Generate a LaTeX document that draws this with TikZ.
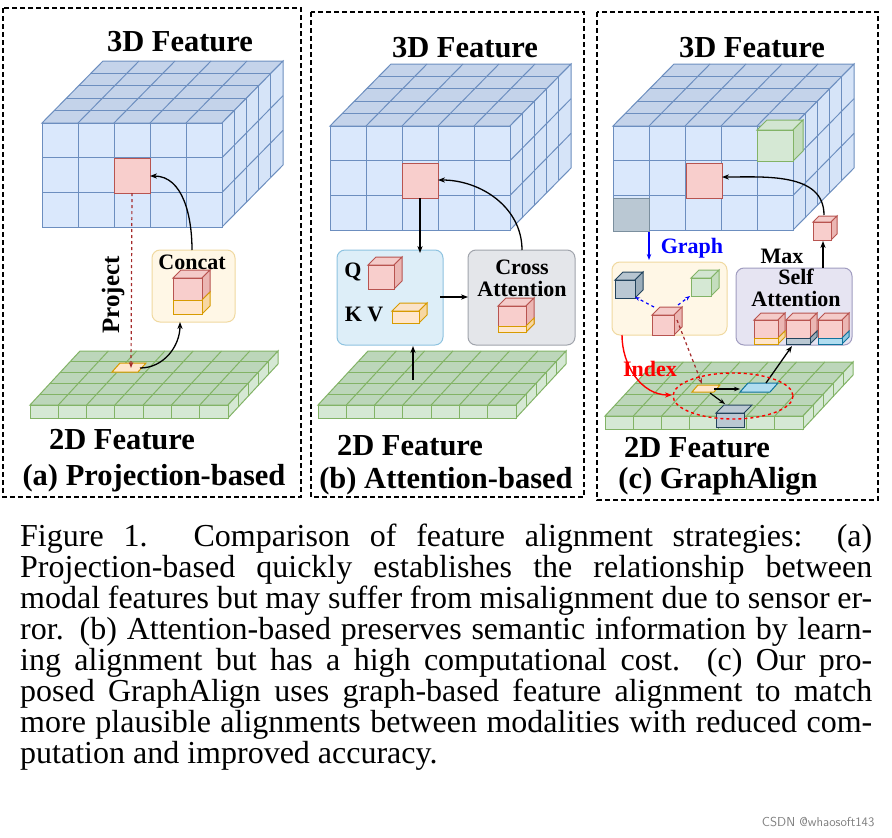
\documentclass[tikz,border=0pt]{standalone}
\usepackage{fontspec}
\setmainfont{Liberation Serif}
\usetikzlibrary{arrows.meta,positioning}
\definecolor{bfill}{HTML}{DAE8FC}\definecolor{bline}{HTML}{6C8EBF}\definecolor{btop}{HTML}{C4D3EA}
\definecolor{gfill}{HTML}{D5E8D4}\definecolor{gline}{HTML}{82B366}\definecolor{gtop}{HTML}{BCD6BA}
\definecolor{pfill}{HTML}{F8CECC}\definecolor{pline}{HTML}{B85450}
\definecolor{ofill}{HTML}{FFE6CC}\definecolor{oline}{HTML}{D79B00}
\definecolor{sfill}{HTML}{BAC8D3}\definecolor{sline}{HTML}{23445D}
\definecolor{cfill}{HTML}{B1DDF0}\definecolor{cline}{HTML}{10739E}
\definecolor{ybox}{HTML}{FFF7E6}\definecolor{yline}{HTML}{F0D9A0}
\definecolor{qbox}{HTML}{DDEEF8}\definecolor{qline}{HTML}{8EC3E0}
\definecolor{xbox}{HTML}{E4E6EA}\definecolor{xline}{HTML}{A0A4AC}
\definecolor{vbox}{HTML}{E6E4F2}\definecolor{vline}{HTML}{A09CC0}
\definecolor{dred}{HTML}{A52A2A}

% 3D feature block, front top-left corner at (#1,#2)
\newcommand\featblock[2]{%
\begin{scope}[shift={(#1,#2)},draw=bline,line width=1pt]
\filldraw[fill=btop] (0,0)--(180,0)--(241,-62)--(61,-62)--cycle;
\foreach \i in {1,...,4} \draw (36*\i,0)--++(61,-62);
\foreach \j in {1,...,4} \draw (12.2*\j,-12.4*\j)--++(180,0);
\filldraw[fill=bfill!80!btop] (180,0)--(241,-62)--(241,42)--(180,104)--cycle;
\foreach \j in {1,...,4} \draw (180+12.2*\j,-12.4*\j)--++(0,104);
\foreach \r in {1,2} \draw (180,34.7*\r)--++(61,-62);
\filldraw[fill=bfill] (0,0) rectangle (180,104);
\foreach \i in {1,...,4} \draw (36*\i,0)--++(0,104);
\foreach \r in {1,2} \draw (0,34.7*\r)--++(180,0);
\end{scope}}
% 2D feature plate
\newcommand\featplate[2]{%
\begin{scope}[shift={(#1,#2)},draw=gline,line width=1pt]
\filldraw[fill=gtop] (0,0)--(198,0)--(248,-54)--(50,-54)--cycle;
\foreach \i in {1,...,6} \draw (28.3*\i,0)--++(50,-54);
\foreach \j in {1,...,4} \draw (10*\j,-10.8*\j)--++(198,0);
\filldraw[fill=gfill] (198,0)--(248,-54)--(248,-41)--(198,13)--cycle;
\foreach \j in {1,...,4} \draw (198+10*\j,-10.8*\j)--++(0,13);
\filldraw[fill=gfill] (0,0) rectangle (198,13);
\foreach \i in {1,...,6} \draw (28.3*\i,0)--++(0,13);
\end{scope}}
% small cube: x,y,w,h,depth,colour
\newcommand\smallcube[6]{%
\begin{scope}[shift={(#1,#2)},line width=1pt]
\filldraw[fill=#6fill!85!black!10!#6fill,draw=#6line] (0,0)--(#3,0)--++(#5,-#5)--++(-#3,0)--cycle;
\filldraw[fill=#6fill!80!#6line,draw=#6line] (#3,0)--++(#5,-#5)--++(0,#4)--++(-#5,#5)--cycle;
\filldraw[fill=#6fill,draw=#6line] (0,0) rectangle (#3,#4);
\end{scope}}
% slab under a cube (no top)
\newcommand\slab[6]{%
\begin{scope}[shift={(#1,#2)},line width=1pt]
\filldraw[fill=#6fill!80!#6line,draw=#6line] (#3,0)--++(#5,-#5)--++(0,#4)--++(-#5,#5)--cycle;
\filldraw[fill=#6fill,draw=#6line] (0,0) rectangle (#3,#4);
\end{scope}}

\tikzset{panel/.style={draw,dashed,line width=1.2pt,dash pattern=on 5pt off 3pt},
title/.style={font=\bfseries\fontsize{30.5}{32}\selectfont},
lab/.style={font=\bfseries\fontsize{22}{22}\selectfont,align=center,inner sep=0pt},
rbox/.style={rounded corners=8pt,line width=1pt},
arr/.style={-{Stealth[length=7pt]},line width=1.3pt},
cell/.style={line width=1pt}}

\begin{document}
\begin{tikzpicture}[x=1pt,y=-1pt]
\useasboundingbox[fill=white] (0,0) rectangle (892,838);
% panels
\draw[panel] (3,8) rectangle (301,497);
\draw[panel] (311,12) rectangle (584,497);
\draw[panel] (597,12) rectangle (878,500);
\node[title] (t3a) at (180,42) {3D Feature};
\node[title] (t3b) at (465,48) {3D Feature};
\node[title] (t3c) at (752,48) {3D Feature};
\node[title] (t2a) at (122,440) {2D Feature};
\node[title] (t2b) at (410,446) {2D Feature};
\node[title] (t2c) at (697,448) {2D Feature};
\node[title] (ca) at (154,478) {(a) Projection-based};
\node[title] (cb) at (446,481) {(b) Attention-based};
\node[title] (cc) at (718,481) {(c) GraphAlign};

% (a)
\featblock{42}{123}
\filldraw[cell,fill=pfill,draw=pline] (114,158) rectangle (150,193);
\featplate{30}{405}
\filldraw[cell,fill=ofill,draw=oline] (112,372)--(138,372)--(146,363)--(120,363)--cycle;
\draw[rbox,fill=ybox,draw=yline] (152,250) rectangle (235,322);
\node[lab] (concat) at (192,262) {Concat};
\smallcube{173}{278}{29}{22}{8}{p}
\slab{173}{300}{29}{14}{8}{o}
\coordinate (pcella) at (132,193);
\coordinate (ocella) at (131,368);
\coordinate (concatb) at (180,322);
\draw[dashed,dred,-{Stealth[length=6pt]},line width=1.2pt] (pcella) -- (ocella);
\node[lab,rotate=90,font=\bfseries\fontsize{25}{25}\selectfont] (project) at (113,295) {Project};
\draw[arr] (140,368) to[out=0,in=-90] (concatb);
\draw[arr] (192,250) to[out=90,in=0] (150,176);

% (b)
\featblock{330}{126}
\filldraw[cell,fill=pfill,draw=pline] (402,163) rectangle (438,198);
\featplate{318}{405}
\draw[rbox,fill=qbox,draw=qline] (337,250) rectangle (443,345);
\draw[rbox,fill=xbox,draw=xline] (468,250) rectangle (575,345);
\node[lab] (q) at (353,272) {Q};
\node[lab] (kv) at (364,314) {K V};
\smallcube{368}{265}{26}{24}{8}{p}
\smallcube{392}{311}{27}{12}{8}{o}
\node[lab] (cross) at (522,278) {Cross\\Attention};
\smallcube{498}{306}{28}{26}{8}{p}
\slab{498}{326}{28}{6}{8}{o}
\draw[arr] (420,198) -- (420,253);
\draw[arr] (413,380) -- (413,346);
\draw[arr] (440,297) -- (468,297);
\draw[arr] (522,250) to[out=90,in=0] (438,180);

% (c)
\featblock{613}{126}
\filldraw[cell,fill=pfill,draw=pline] (686,163) rectangle (722,198);
\filldraw[cell,fill=sfill,draw=sline!60] (613,198) rectangle (649,231);
\smallcube{757}{130}{36}{31}{10}{g}
\featplate{605}{416}
\draw[rbox,fill=ybox,draw=yline] (612,262) rectangle (727,335);
\draw[rbox,fill=vbox,draw=vline] (736,268) rectangle (852,345);
\smallcube{615}{280}{20}{18}{8}{s}
\smallcube{691}{278}{20}{18}{8}{g}
\smallcube{652}{315}{22}{20}{8}{p}
\draw[-{Stealth[length=6pt]},blue,line width=1.2pt] (649,232) -- (649,260);
\node[lab,text=blue] (graph) at (692,248) {Graph};
\draw[-{Stealth[length=5pt]},blue,dashed,line width=1.2pt] (654,307) -- (635,297);
\draw[-{Stealth[length=5pt]},blue,dashed,line width=1.2pt] (678,305) -- (690,296);
\node[lab] (self) at (796,288) {Self\\Attention};
\smallcube{754}{320}{24}{18}{7}{p}\slab{754}{338}{24}{6}{7}{o}
\smallcube{786}{320}{24}{18}{7}{p}\slab{786}{338}{24}{6}{7}{s}
\smallcube{818}{320}{24}{18}{7}{p}\slab{818}{338}{24}{6}{7}{c}
\smallcube{813}{222}{18}{18}{6}{p}
\node[lab] (max) at (782,256) {Max};
\draw[arr] (823,268) -- (823,241);
\draw[arr] (824,215) to[out=90,in=0] (722,177);
% plate cells
\filldraw[cell,fill=ofill,draw=oline] (692,392)--(714,392)--(720,385)--(698,385)--cycle;
\filldraw[cell,fill=cfill,draw=cline] (740,392)--(770,392)--(778,383)--(748,383)--cycle;
\filldraw[cell,fill=sfill,draw=sline] (716,413)--(744,413)--(752,405)--(724,405)--cycle;
\filldraw[cell,fill=sfill,draw=sline] (716,413) rectangle (744,427);
\draw[-{Stealth[length=6pt]},line width=1.2pt] (714,389) -- (740,389);
\draw[-{Stealth[length=6pt]},line width=1.2pt] (710,393) -- (725,404);
\draw[arr] (766,383) -- (792,346);
\draw[dashed,dred,-{Stealth[length=6pt]},line width=1.2pt] (677,320) -- (702,384);
\draw[red,dashed,line width=1.4pt] (733,396) ellipse (60 and 23);
\draw[-{Stealth[length=7pt]},red,line width=1.4pt] (622,335) to[out=-90,in=180] (672,395);
\node[lab,text=red] (index) at (650,369) {Index};

% caption
\node[anchor=north west,inner sep=0pt,text width=852pt,align=justify,font=\fontsize{32}{31}\selectfont] (caption) at (20,524)
{Figure 1. Comparison of feature alignment strategies: (a)\linebreak
Projection-based quickly establishes the relationship between\linebreak
modal features but may suffer from misalignment due to sensor er-\linebreak
ror. (b) Attention-based preserves semantic information by learn-\linebreak
ing alignment but has a high computational cost. (c) Our pro-\linebreak
posed GraphAlign uses graph-based feature alignment to match\linebreak
more plausible alignments between modalities with reduced com-\linebreak
putation and improved accuracy.};
\node[anchor=east,font=\sffamily\fontsize{13}{14}\selectfont,text=gray] (mark) at (878,822) {CSDN @whaosoft143};
\end{tikzpicture}
\end{document}
